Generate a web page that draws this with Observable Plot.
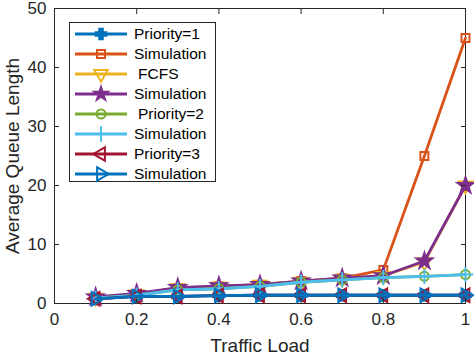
<!DOCTYPE html>
<html><head><meta charset="utf-8">
<script src="https://cdn.jsdelivr.net/npm/d3@7"></script>
<script src="https://cdn.jsdelivr.net/npm/@observablehq/plot@0.6"></script>
<style>
body{margin:0;background:#fff;font-family:"Liberation Sans",Arial,sans-serif;}
#wrap{position:relative;width:474px;height:356px;}
#legend{position:absolute;left:69px;top:22px;width:147px;height:160px;border:1px solid #262626;background:#fff;box-sizing:border-box;}
#legend .row{position:absolute;left:0;height:20px;display:flex;align-items:center;font-size:15.5px;color:#000;}
</style></head><body>
<div id="wrap"><div id="chart"></div><div id="legend"></div></div>
<script>
const load = [0.1,0.2,0.3,0.4,0.5,0.6,0.7,0.8,0.9,1.0];
const labels = ["Priority=1","Simulation","FCFS","Simulation","Priority=2","Simulation","Priority=3","Simulation"];
const colors = ["#0072BD","#D95319","#EDB120","#7E2F8E","#77AC30","#4DBEEE","#A2142F","#0072BD"];
const p1   = [0.8,1.2,1.2,1.35,1.4,1.4,1.4,1.4,1.4,1.4];
const sim1 = [1.0,1.6,2.6,2.9,3.2,3.8,4.3,5.7,25,45];
const fcfs = [1.0,1.6,2.6,2.9,3.2,3.7,4.2,4.7,7.0,20];
const sim2 = [1.1,1.7,2.7,3.0,3.2,3.8,4.3,4.7,7.2,20];
const p2   = [0.9,1.4,2.3,2.5,2.9,3.6,4.0,4.4,4.6,4.9];
const sim3 = [0.9,1.4,2.3,2.5,2.9,3.6,4.0,4.4,4.6,4.9];
const p3   = [0.8,1.2,1.2,1.35,1.4,1.4,1.4,1.4,1.4,1.4];
const sim4 = [0.8,1.2,1.2,1.35,1.4,1.4,1.4,1.4,1.4,1.4];
const xTicks = [0,0.2,0.4,0.6,0.8,1];
const yTicks = [0,10,20,30,40,50];

const seriesVals = [p1,sim1,fcfs,sim2,p2,sim3,p3,sim4];
const markers = [
  {symbol:"cross", fill:true, rotate:0, r:4.5},
  {symbol:"square", fill:false, rotate:0, r:4.5},
  {symbol:"triangle", fill:false, rotate:180, r:5},
  {symbol:"star", fill:true, rotate:0, r:5},
  {symbol:"circle", fill:false, rotate:0, r:4.5},
  {symbol:"plus", fill:false, rotate:0, r:5},
  {symbol:"triangle", fill:false, rotate:-90, r:5},
  {symbol:"triangle", fill:false, rotate:90, r:5}
];

const marks = [];
seriesVals.forEach((vals,i)=>{
  const data = load.map((x,j)=>({x, y: vals[j]}));
  marks.push(Plot.line(data,{x:"x",y:"y",stroke:colors[i],strokeWidth:2.8}));
  const m = markers[i];
  marks.push(Plot.dot(data,{x:"x",y:"y",symbol:m.symbol,r:m.r,rotate:m.rotate,
    stroke:colors[i],strokeWidth:2,fill:m.fill?colors[i]:"none"}));
});

const chart = Plot.plot({
  width:474, height:356,
  marginLeft:54, marginRight:9, marginTop:8, marginBottom:53,
  style:{fontFamily:"Liberation Sans, Arial, sans-serif", fontSize:"17px", color:"#262626", background:"#fff"},
  x:{domain:[0,1], ticks:xTicks, tickFormat:d=>String(d), label:null},
  y:{domain:[0,50], ticks:yTicks, tickFormat:d=>String(d), label:null},
  marks:[
    Plot.frame({stroke:"#262626", strokeWidth:1}),
    ...marks,
    Plot.axisX({ticks:xTicks, tickFormat:d=>String(d), tickSize:-5, tickPadding:14, label:"Traffic Load", labelAnchor:"center", labelArrow:"none", labelOffset:48, fontSize:17}),
    Plot.axisX({anchor:"top", ticks:xTicks, tickFormat:()=>"", tickSize:-5, label:null}),
    Plot.axisY({ticks:yTicks, tickFormat:d=>String(d), tickSize:-5, tickPadding:13, label:"Average Queue Length", labelAnchor:"center", labelArrow:"none", labelOffset:49, fontSize:17}),
    Plot.axisY({anchor:"right", ticks:yTicks, tickFormat:()=>"", tickSize:-5, label:null})
  ]
});
document.getElementById("chart").appendChild(chart);
d3.select(chart).selectAll("[aria-label='x-axis label'] text, [aria-label='y-axis label'] text").style("font-size","19px").attr("fill","#262626");

// legend
const lg = d3.select("#legend");
const symMap = {cross:d3.symbolCross, square:d3.symbolSquare, triangle:d3.symbolTriangle, star:d3.symbolStar, circle:d3.symbolCircle, plus:d3.symbolPlus};
labels.forEach((lab,i)=>{
  const row = lg.append("div").attr("class","row").style("top",(1+i*20)+"px");
  const svg = row.append("svg").attr("width",62).attr("height",20);
  svg.append("line").attr("x1",5).attr("x2",57).attr("y1",10).attr("y2",10).attr("stroke",colors[i]).attr("stroke-width",2.8);
  const m = markers[i];
  const size = Math.PI*m.r*m.r*(m.symbol==="star"?0.7:1);
  svg.append("path").attr("d",d3.symbol(symMap[m.symbol], size)()).attr("transform",`translate(31,10) rotate(${m.rotate})`)
    .attr("fill",m.fill?colors[i]:"none").attr("stroke",colors[i]).attr("stroke-width",2);
  row.append("span").style("margin-left",(lab==="FCFS"||lab==="Priority=2")?"6px":"2px").text(lab);
});
</script></body></html>
